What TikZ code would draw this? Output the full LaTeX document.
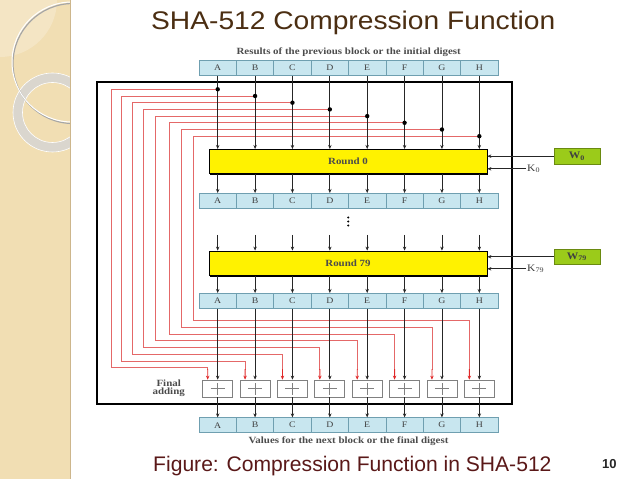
\documentclass[tikz,border=0pt]{standalone}
\usepackage{fontspec}
\usepackage{graphicx}
\setmainfont{Liberation Serif}
\newfontfamily\arialf{Liberation Sans}
\usetikzlibrary{arrows.meta}
\newcommand\widetxt[1]{\scalebox{1.15}[1]{#1}}
\definecolor{band}{HTML}{F1DEB3}
\definecolor{bandlight}{HTML}{F4E5C4}
\definecolor{bandedge}{HTML}{CDB68C}
\definecolor{ringc}{HTML}{DAD6CE}
\definecolor{titlec}{HTML}{4B2E12}
\definecolor{capc}{HTML}{5A1818}
\definecolor{regfill}{HTML}{C8E6EF}
\definecolor{regborder}{HTML}{6F9FB0}
\definecolor{wfill}{HTML}{9BCB1A}
\definecolor{wborder}{HTML}{6A8A10}
\definecolor{redl}{HTML}{E46868}
\definecolor{reda}{HTML}{E02828}
\definecolor{addc}{HTML}{808080}
\tikzset{
  reg/.style={draw=regborder, fill=regfill, line width=0.6bp, minimum width=37.375bp,
    minimum height=15bp, inner sep=0pt, text=black!75,
    font=\fontsize{8.5bp}{9bp}\selectfont},
  adder/.style={draw=addc, fill=white, line width=0.7bp, minimum width=30bp,
    minimum height=17bp, inner sep=0pt},
  roundbox/.style={draw=black, fill=yellow, line width=0.7bp, minimum width=278bp,
    minimum height=24.5bp, inner sep=0pt, text=black!70,
    font=\bfseries\fontsize{9.5bp}{10bp}\selectfont},
  wbox/.style={draw=wborder, fill=wfill, line width=0.6bp, minimum width=46bp,
    minimum height=15.5bp, inner sep=0pt, text=black!75,
    font=\bfseries\fontsize{10bp}{11bp}\selectfont},
  arr/.style={draw=black!85, line width=0.7bp, -{Stealth[length=4bp,width=3.4bp]}},
  redline/.style={draw=redl, line width=0.9bp},
  redarr/.style={draw=reda, line width=0.9bp, -{Stealth[length=4bp,width=3.4bp]}},
  smalltext/.style={inner sep=0pt, text=black!70, font=\bfseries\fontsize{9.5bp}{10.5bp}\selectfont},
  klabel/.style={inner sep=1bp, text=black!75, font=\fontsize{10bp}{11bp}\selectfont},
}
\begin{document}
\begin{tikzpicture}[x=1bp,y=-1bp]
\useasboundingbox (0,0) rectangle (638,479);
\fill[white] (0,0) rectangle (638,479);
% sidebar
\begin{scope}
\clip (0,0) rectangle (70,479);
\fill[band] (0,0) rectangle (70,479);
\fill[bandlight] (0,0) circle[radius=57];
\fill[ringc, even odd rule] (52.5,112.5) circle[radius=39.5] circle[radius=30];
\draw[white, line width=0.6bp] (52.5,112.5) circle[radius=39.5];
\draw[white, line width=0.6bp] (52.5,112.5) circle[radius=30];
\draw[black!35, line width=1.2bp] (73,63.5) circle[radius=60];
\draw[white, line width=1bp] (72,62) circle[radius=60];
\end{scope}
\draw[bandedge, line width=1.5bp] (70.5,0) -- (70.5,479);
% titles
\node[font=\arialf\fontsize{25.5bp}{30bp}\selectfont, text=titlec, anchor=base west, inner sep=0pt]
  (title) at (151,30) {\scalebox{1.105}[1]{SHA-512 Compression Function}};
\node[font=\arialf\fontsize{21.1bp}{25bp}\selectfont, text=capc, anchor=base west, inner sep=0pt]
  (caption) at (153,471) {Figure: Compression Function in SHA-512};
\node[font=\arialf\bfseries\fontsize{13bp}{15bp}\selectfont, text=black!85, anchor=base west, inner sep=0pt]
  (pagenum) at (602,468.5) {10};
% frame
\draw[black, line width=1.8bp] (96.7,82.3) rectangle (511.7,404.3);
% text labels
\node[smalltext] (toptext) at (348.7,52.5) {\widetxt{Results of the previous block or the initial digest}};
\node[smalltext] (bottext) at (348.5,441) {\widetxt{Values for the next block or the final digest}};
\node[smalltext] (final) at (168.7,388.5) {\widetxt{\begin{tabular}{@{}c@{}}Final\\[-2bp]adding\end{tabular}}};
% round boxes
\fill[black] (210.3,150.3) rectangle (488.2,175);
\node[roundbox] (round0) at (348,161.6) {\widetxt{Round 0}};
\fill[black] (210.3,252) rectangle (488.2,276.6);
\node[roundbox] (round79) at (348,263.2) {\widetxt{Round 79}};
% dots
\foreach \yy in {217.5,221.5,225.5} \fill[black] (348.3,\yy) circle[radius=1.1];
% registers, connectors
\foreach \L/\xl [count=\i from 0] in {A/111,B/121,C/132,D/143.5,E/155,F/169,G/181,H/193}{
  \pgfmathsetmacro{\x}{217.7+37.375*\i}
  \pgfmathsetmacro{\ty}{89.3+6.7*\i}
  \pgfmathsetmacro{\by}{367.7-6.7*\i}
  \pgfmathsetmacro{\xr}{\x-10}
  \node[reg] (t\L) at (\x,67.9) {\widetxt{\L}};
  \node[reg] (p\L) at (\x,200.8) {\widetxt{\L}};
  \node[reg] (q\L) at (\x,300.8) {\widetxt{\L}};
  \node[reg] (f\L) at (\x,425.2) {\widetxt{\L}};
  \node[adder] (s\L) at (\x,388.5) {};
  \draw[addc, line width=0.7bp] ([xshift=-7bp]s\L.center) -- ([xshift=7bp]s\L.center);
  \draw[addc, line width=0.7bp] ([yshift=-6bp]s\L.center) -- ([yshift=6bp]s\L.center);
  \coordinate (tap\L) at (\x,\ty);
  \coordinate (in\L) at (\x,235);
  \draw[redline] (tap\L) -- (\xl,\ty) -- (\xl,\by) -- (\xr,\by) -- (\xr,370);
  \draw[redarr] (\xr,369) -- ([xshift=-10bp]s\L.north);
}
\foreach \L in {A,B,C,D,E,F,G,H}{
  \draw[arr] (t\L.south) -- (t\L.south |- round0.north);
  \fill[black] (tap\L) circle[radius=2.2];
  \draw[arr] (p\L.north |- round0.south) -- (p\L.north);
  \draw[arr] (in\L) -- (in\L |- round79.north);
  \draw[arr] (q\L.north |- round79.south) -- (q\L.north);
  \draw[arr] (q\L.south) -- (s\L.north);
  \draw[arr] (s\L.south) -- (f\L.north);
}
% W and K inputs
\node[wbox] (w0) at (577,156.2) {\widetxt{W\textsubscript{0}}};
\node[wbox] (w79) at (577,256.8) {\widetxt{W\textsubscript{79}}};
\node[klabel, anchor=west] (k0) at (526,168.8) {\widetxt{K\textsubscript{0}}};
\node[klabel, anchor=west] (k79) at (526,268.8) {\widetxt{K\textsubscript{79}}};
\draw[arr] (w0.west) -- (w0.west -| round0.east);
\draw[arr] (w79.west) -- (w79.west -| round79.east);
\draw[arr] (k0.west) -- (k0.west -| round0.east);
\draw[arr] (k79.west) -- (k79.west -| round79.east);
\end{tikzpicture}
\end{document}
